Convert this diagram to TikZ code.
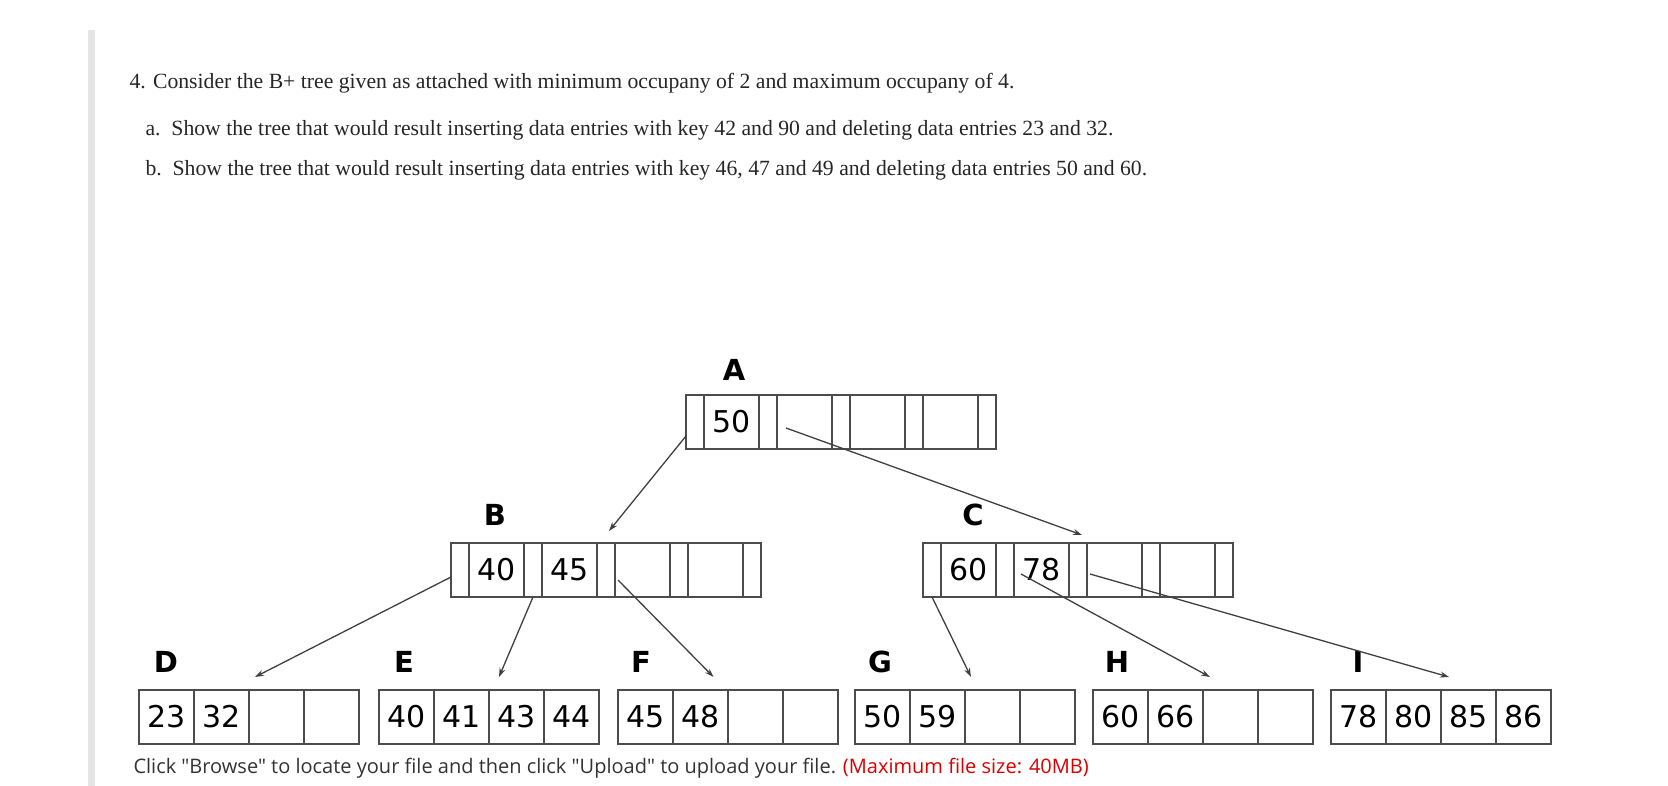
\documentclass[tikz,border=0pt]{standalone}
\usepackage{fontspec}
\setmainfont{Liberation Serif}
\newfontfamily\treefont{DejaVu Sans}
\newfontfamily\uifont{Open Sans}
\usetikzlibrary{arrows.meta}
\tikzset{
  cellbase/.style={draw=black!70, line width=1.3pt, inner sep=0pt, outer sep=0pt, minimum height=54pt, anchor=west, font=\treefont\fontsize{30}{30}\selectfont},
  ptr/.style={cellbase, minimum width=18pt},
  key/.style={cellbase, minimum width=55pt},
  lf/.style={cellbase, minimum width=55pt},
  lbl/.style={font=\treefont\bfseries\fontsize{29}{29}\selectfont},
  link/.style={draw=black!75, line width=1.3pt, -{Stealth[length=9pt,width=6pt]}},
  qtext/.style={anchor=base west, font=\fontsize{21.7}{26}\selectfont, text=black!85},
}
\newcommand\inode[6]{%
  \node[ptr] (#1p0) at (#2,#3) {};
  \node[key] (#1k1) at (#1p0.east) {#4};
  \node[ptr] (#1p1) at (#1k1.east) {};
  \node[key] (#1k2) at (#1p1.east) {#5};
  \node[ptr] (#1p2) at (#1k2.east) {};
  \node[key] (#1k3) at (#1p2.east) {};
  \node[ptr] (#1p3) at (#1k3.east) {};
  \node[key] (#1k4) at (#1p3.east) {};
  \node[ptr] (#1p4) at (#1k4.east) {#6};
}
\newcommand\lnode[7]{%
  \node[lf] (#1a) at (#2,#3) {#4};
  \node[lf] (#1b) at (#1a.east) {#5};
  \node[lf] (#1c) at (#1b.east) {#6};
  \node[lf] (#1d) at (#1c.east) {#7};
}
\begin{document}
\begin{tikzpicture}[x=1pt,y=-1pt]
\useasboundingbox (0,0) rectangle (1668,786);
\fill[black!10] (88,30) rectangle (95,786);
\node[qtext] (q0) at (126,89) {4. Consider the B+ tree given as attached with minimum occupany of 2 and maximum occupany of 4.};
\node[qtext] (qa) at (142,136) {a.\ \ Show the tree that would result inserting data entries with key 42 and 90 and deleting data entries 23 and 32.};
\node[qtext] (qb) at (142,176) {b.\ \ Show the tree that would result inserting data entries with key 46, 47 and 49 and deleting data entries 50 and 60.};

\inode{A}{686}{422}{50}{}{}
\inode{B}{451}{570}{40}{45}{}
\inode{C}{923}{570}{60}{78}{}
\lnode{D}{139}{717}{23}{32}{}{}
\lnode{E}{379}{717}{40}{41}{43}{44}
\lnode{F}{618}{717}{45}{48}{}{}
\lnode{G}{855}{717}{50}{59}{}{}
\lnode{H}{1093}{717}{60}{66}{}{}
\lnode{I}{1331}{717}{78}{80}{85}{86}

\node[lbl] (la) at (734,370) {A};
\node[lbl] (lb) at (495,515) {B};
\node[lbl] (lc) at (973,515) {C};
\node[lbl] (ld) at (166,662) {D};
\node[lbl] (le) at (404,662) {E};
\node[lbl] (lfl) at (641,662) {F};
\node[lbl] (lg) at (880,662) {G};
\node[lbl] (lh) at (1117,662) {H};
\node[lbl] (li) at (1358,662) {I};

\draw[link] ([yshift=-14pt]Ap0.west) -- ([xshift=-6pt,yshift=12pt]Bk3.north west);
\draw[link] ([xshift=9pt,yshift=-6pt]Ak2.west) -- ([xshift=-5pt,yshift=8pt]Ck3.north west);
\draw[link] ([yshift=-7pt]Bp0.west) -- ([xshift=6pt,yshift=13pt]Dc.north west);
\draw[link] (Bp1.south) -- ([xshift=10pt,yshift=13pt]Ec.north west);
\draw[link] ([xshift=12pt,yshift=-10pt]Bp2.center) -- ([xshift=13pt,yshift=13pt]Fb.north);
\draw[link] (Cp0.south) -- ([xshift=6pt,yshift=13pt]Gc.north west);
\draw[link] ([xshift=7pt,yshift=-4pt]Ck2.west) -- ([xshift=7pt,yshift=13pt]Hb.north east);
\draw[link] ([xshift=12pt,yshift=-4pt]Cp2.center) -- ([xshift=8pt,yshift=13pt]Ib.north east);

\node[anchor=base west, font=\uifont\fontsize{20}{24}\selectfont, text=black!80] (foot) at (130,773)
  {Click "Browse" to locate your file and then click "Upload" to upload your file. \textcolor{red!85!black}{(Maximum file size: 40MB)}};
\end{tikzpicture}
\end{document}
